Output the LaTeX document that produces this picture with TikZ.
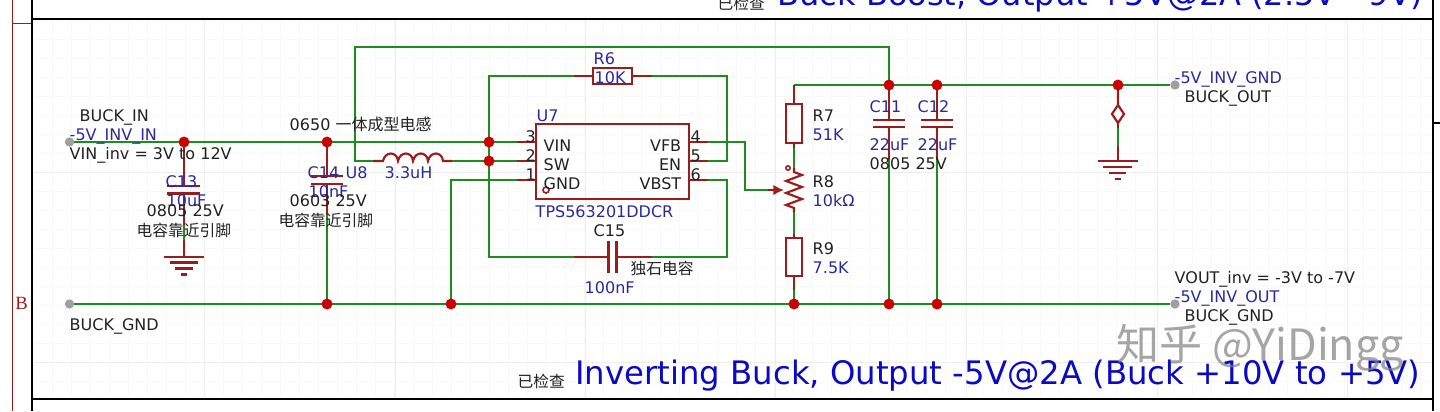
\documentclass[tikz,border=0pt]{standalone}
\usepackage{fontspec}
\setmainfont{DejaVu Sans}
\newfontfamily\cjk{Noto Sans CJK SC}
\newfontfamily\serifb{Liberation Serif}
\usetikzlibrary{arrows.meta}
\definecolor{wiregreen}{HTML}{1E8C1E}
\definecolor{partred}{HTML}{9C1C1C}
\definecolor{dotred}{HTML}{CC0000}
\definecolor{valblue}{HTML}{2A2A9C}
\definecolor{titleblue}{HTML}{0A0AC4}
\definecolor{txtblack}{HTML}{222222}
\definecolor{gridminor}{HTML}{F9F9F9}
\definecolor{gridmajor}{HTML}{EEEEEE}
\tikzset{
  x=0.75pt,y=-0.75pt,
  wire/.style={draw=wiregreen,line width=1.6pt,line join=miter},
  part/.style={draw=partred,line width=1.6pt,line join=miter},
  frameline/.style={draw=black,line width=1.8pt},
  jn/.style={circle,fill=dotred,draw=none,minimum size=8.2pt,inner sep=0pt},
  port/.style={circle,fill=gray!75,draw=none,minimum size=7pt,inner sep=0pt},
  lbl/.style={inner sep=0pt,anchor=base west,text=txtblack,yshift=-0.75pt,xshift=-0.4pt,font=\fontsize{12pt}{13pt}\selectfont},
  val/.style={lbl,text=valblue},
  cn/.style={lbl,font=\fontsize{11.8pt}{13pt}\cjk},
}
\begin{document}
\begin{tikzpicture}
\useasboundingbox (0,0) rectangle (1440,411);
\fill[white] (0,0) rectangle (1440,411);
% grid
\foreach \x in {33,52,...,1440} \draw[gridminor,line width=.5pt] (\x,0) -- (\x,411);
\foreach \y in {20,39,...,411} \draw[gridminor,line width=.5pt] (0,\y) -- (1440,\y);
\foreach \x in {204,395,585,775,966,1157,1347} \draw[gridmajor,line width=.6pt] (\x,0) -- (\x,411);
\foreach \y in {172,362} \draw[gridmajor,line width=.6pt] (0,\y) -- (1440,\y);
\fill[white] (0,0) rectangle (32,411);
\fill[white] (1433,0) rectangle (1440,411);
\fill[white] (32,0) rectangle (1433,18);
\fill[white] (32,400) rectangle (1433,411);
% sheet frame
\coordinate (fTL) at (32,19); \coordinate (fTR) at (1433,19);
\coordinate (fBL) at (32,399); \coordinate (fBR) at (1433,399);
\draw[partred,line width=1.2pt] (12.5,0) -- (12.5,411);
\draw[partred,line width=1.2pt] (12.5,23.5) -- (32,23.5);
\draw[frameline] (32,0) -- (fTL) -- (fBL) -- (32,411);
\draw[frameline] (1433,0) -- (fTR) -- (fBR) -- (1433,411);
\draw[frameline] (fTL) -- (fTR);
\draw[frameline] (fBL) -- (fBR);
\draw[black,line width=1.2pt] (1433,123) -- (1440,123);
\node[inner sep=0pt,text=partred,font=\fontsize{14pt}{15pt}\serifb] (zoneB) at (21.5,303.5) {B};
% coordinates
\node[port] (pIn) at (69.5,142) {};
\node[port] (pGnd) at (69.5,304) {};
\node[port] (pOutT) at (1175,85) {};
\node[port] (pOutB) at (1175,304) {};
\coordinate (j1) at (184,142);
\coordinate (j2) at (327,142);
\coordinate (j3) at (489,142);
\coordinate (j4) at (489,161);
\coordinate (j5) at (327,304);
\coordinate (j6) at (451,304);
\coordinate (j7) at (794,304);
\coordinate (j8) at (889,304);
\coordinate (j9) at (937,304);
\coordinate (j10) at (889,85);
\coordinate (j11) at (937,85);
\coordinate (j12) at (1118,85);
% green wires
\draw[wire] (pIn) -- (j1) -- (j2) -- (j3) -- (517,142);
\draw[wire] (pGnd) -- (j5) -- (j6) -- (j7) -- (j8) -- (j9) -- (pOutB);
\draw[wire] (794,85) -- (j10) -- (j11) -- (j12) -- (pOutT);
\draw[wire] (373,161) -- (355,161) -- (355,47) -- (889,47) -- (j10);
\draw[wire] (452,161) -- (j4) -- (517,161);
\draw[wire] (574,76) -- (489,76) -- (489,257) -- (574,257);
\draw[wire] (652,76) -- (727,76) -- (727,161) -- (708,161);
\draw[wire] (708,142) -- (745,142) -- (745,190) -- (768,190);
\draw[wire] (708,180) -- (727,180) -- (727,257) -- (652,257);
\draw[wire] (517,180) -- (451,180) -- (j6);
\draw[wire] (327,215) -- (j5);
\draw[wire] (889,160) -- (j8);
\draw[wire] (937,160) -- (j9);
\draw[wire] (794,148) -- (794,168);
\draw[wire] (794,212) -- (794,234);
\draw[wire] (794,290) -- (j7);
\draw[wire] (1118,128) -- (1118,146);
\draw[wire] (184,225) -- (184,240);
% C13
\draw[part] (j1) -- (184,186);
\draw[part] (167,186) -- (200,186);
\draw[part] (167,193.5) -- (200,193.5);
\draw[part] (184,193.5) -- (184,225);
\draw[part] (184,240) -- (184,257);
\draw[part] (164,257) -- (204,257);
\draw[part] (170,262.5) -- (198,262.5);
\draw[part] (175,268.5) -- (193,268.5);
\draw[part] (181,274.5) -- (187,274.5);
% C14
\draw[part] (j2) -- (327,176);
\draw[part] (311,176) -- (343,176);
\draw[part] (311,184) -- (343,184);
\draw[part] (327,184) -- (327,215);
% inductor
\draw[part] (373,161) -- (383,161)
  .. controls (385,151) and (397,151) .. (398,161)
  .. controls (400,151) and (412,151) .. (413,161)
  .. controls (415,151) and (427,151) .. (428,161)
  .. controls (430,151) and (442,151) .. (443,161)
  -- (452,161);
% U7
\draw[part] (536,124) rectangle (689,199);
\draw[part] (517,142) -- (536,142);
\draw[part] (517,161) -- (536,161);
\draw[part] (517,180) -- (536,180);
\draw[part] (689,142) -- (708,142);
\draw[part] (689,161) -- (708,161);
\draw[part] (689,180) -- (708,180);
\draw[part,line width=1.2pt] (546,190) circle[radius=3];
% R6
\draw[part] (574,76) -- (593,76);
\draw[part] (632,76) -- (652,76);
\draw[part] (593,68) rectangle (632,84);
% C15
\draw[part] (574,257) -- (608.5,257);
\draw[part] (616.5,257) -- (652,257);
\draw[part] (608.5,241) -- (608.5,273);
\draw[part] (616.5,241) -- (616.5,273);
% R7
\draw[part] (794,85) -- (794,104);
\draw[part] (786,104) rectangle (802,143);
\draw[part] (794,143) -- (794,148);
% R8
\draw[part] (794,168) -- (794,172) -- (802,175) -- (786,181) -- (802,187) -- (786,193) -- (802,199) -- (786,205) -- (794,208) -- (794,212);
\draw[part,line width=1.1pt] (788,168) circle[radius=2.2];
\draw[part,-{Latex[length=8pt,width=8pt]}] (768,190) -- (784,190);
% R9
\draw[part] (794,234) -- (794,238);
\draw[part] (786,238) rectangle (802,276);
\draw[part] (794,276) -- (794,290);
% C11 C12
\draw[part] (j10) -- (889,120);
\draw[part] (873,120) -- (905,120);
\draw[part] (873,127) -- (905,127);
\draw[part] (889,127) -- (889,160);
\draw[part] (j11) -- (937,120);
\draw[part] (921,120) -- (953,120);
\draw[part] (921,127) -- (953,127);
\draw[part] (937,127) -- (937,160);
% power symbol
\draw[part] (j12) -- (1118,105) -- (1124,114) -- (1118,123) -- (1112,114) -- (1118,105);
\draw[part] (1118,123) -- (1118,128);
\draw[part] (1118,146) -- (1118,161);
\draw[part] (1098,161) -- (1138,161);
\draw[part] (1103,167) -- (1132,167);
\draw[part] (1109,173) -- (1126,173);
\draw[part] (1115,179) -- (1121,179);
% junction dots
\foreach \n in {j1,j2,j3,j4,j5,j6,j7,j8,j9,j10,j11,j12} \node[jn] at (\n) {};
% labels
\node[lbl] (t1) at (80,120.5) {BUCK\_IN};
\node[val] (t2) at (70,139.5) {-5V\_INV\_IN};
\node[lbl] (t3) at (70,158.5) {VIN\_inv = 3V to 12V};
\node[lbl] (t4) at (70,329.5) {BUCK\_GND};
\node[val] (c13n) at (166,186) {C13};
\node[val] (c13v) at (167,205) {10uF};
\node[lbl] (c13a) at (147,215.5) {0805 25V};
\node[cn] (c13b) at (137,235) {电容靠近引脚};
\node[lbl] (t5) at (290,129.5) {0650 {\cjk 一体成型电感}};
\node[val] (c14n) at (308,177) {C14};
\node[val] (u8) at (346,177) {U8};
\node[val] (c14v) at (309,196) {10nF};
\node[lbl] (c14a) at (290,205) {0603 25V};
\node[cn] (c14b) at (279,225) {电容靠近引脚};
\node[val] (l1) at (385,177) {3.3uH};
\node[val] (r6n) at (594,63.5) {R6};
\node[val] (r6v) at (595,82) {10K};
\node[val] (u7n) at (537,120) {U7};
\node[val] (u7v) at (536,216) {TPS563201DDCR};
\node[lbl] (p3) at (526,141) {3};
\node[lbl] (p2) at (526,160) {2};
\node[lbl] (p1) at (526,179) {1};
\node[lbl] (p4) at (691,141) {4};
\node[lbl] (p5) at (691,160) {5};
\node[lbl] (p6) at (691,179) {6};
\node[lbl] (pVIN) at (544,150.5) {VIN};
\node[lbl] (pSW) at (544,169.5) {SW};
\node[lbl] (pGND) at (544,188.5) {GND};
\node[lbl,anchor=base east] (pVFB) at (682,150.5) {VFB};
\node[lbl,anchor=base east] (pEN) at (682,169.5) {EN};
\node[lbl,anchor=base east] (pVBST) at (682,188.5) {VBST};
\node[lbl] (c15n) at (594,235) {C15};
\node[val] (c15v) at (585,292) {100nF};
\node[cn] (c15a) at (631,273) {独石电容};
\node[lbl] (r7n) at (813,120.5) {R7};
\node[val] (r7v) at (813,139.5) {51K};
\node[lbl] (r8n) at (813,186.5) {R8};
\node[val] (r8v) at (813,205.5) {10kΩ};
\node[lbl] (r9n) at (813,253) {R9};
\node[val] (r9v) at (813,272) {7.5K};
\node[val] (c11n) at (870,111) {C11};
\node[val] (c12n) at (918,111) {C12};
\node[val] (c11v) at (870,149) {22uF};
\node[val] (c12v) at (918,149) {22uF};
\node[lbl] (c11a) at (870,168) {0805 25V};
\node[val] (t6) at (1175,82) {-5V\_INV\_GND};
\node[lbl] (t7) at (1185,101) {BUCK\_OUT};
\node[lbl] (t8) at (1175,282) {VOUT\_inv = -3V to -7V};
\node[val] (t9) at (1175,301) {-5V\_INV\_OUT};
\node[lbl] (t10) at (1185,320) {BUCK\_GND};
% titles
\node[cn] (chk1) at (718,8) {已检查};
\node[inner sep=0pt,anchor=base west,text=titleblue,font=\fontsize{24pt}{26pt}\selectfont] (ttl1) at (777,5) {Buck-Boost, Output +5V@2A (2.5V - 9V)};
\node[cn] (chk2) at (518,386.5) {已检查};
\node[inner sep=0pt,anchor=base west,text=titleblue,font=\fontsize{24.25pt}{26pt}\selectfont] (ttl2) at (575,384) {Inverting Buck, Output -5V@2A (Buck +10V to +5V)};
% watermark
\node[inner sep=0pt,anchor=base west,text=gray,opacity=.7,font=\fontsize{32.3pt}{34pt}\cjk] (wm) at (1116,360) {知乎 @YiDingg};
\end{tikzpicture}
\end{document}
